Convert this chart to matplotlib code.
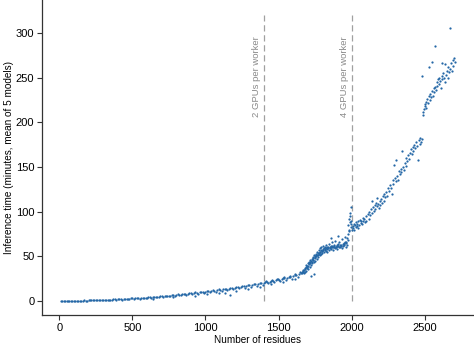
import numpy as np
import matplotlib
matplotlib.use("Agg")
import matplotlib.pyplot as plt

plt.rcParams['font.family'] = ['Liberation Sans', 'DejaVu Sans']

# smooth band, short sequences
band_x = [20, 40, 60, 80, 100, 120, 140, 160, 180, 200, 220, 240, 260, 280, 300,
          320, 340, 360, 380, 400, 420, 440, 460, 480, 500, 520, 540, 560, 580, 600,
          620, 640, 660, 680, 700, 720, 740, 760, 780, 800, 820, 840, 860, 880, 900,
          920, 940, 960, 980, 1000, 1020, 1040, 1060, 1080, 1100, 1120, 1140, 1160,
          1180, 1200, 1220, 1240, 1260, 1280, 1300, 1320, 1340, 1360, 1380, 1400,
          1420, 1440, 1460, 1480, 1500, 1520, 1540, 1560, 1580, 1600, 1620, 1640, 1660]
band_y = [0.1, 0.1, 0.2, 0.2, 0.3, 0.3, 0.4, 0.5, 0.5, 0.6, 0.7, 0.8, 0.9, 1.0, 1.1,
          1.2, 1.4, 1.5, 1.7, 1.9, 2.0, 2.2, 2.4, 2.6, 2.8, 3.0, 3.2, 3.4, 3.7, 3.9,
          4.2, 4.4, 4.7, 5.0, 5.2, 5.5, 5.8, 6.1, 6.4, 6.7, 7.0, 7.4, 7.7, 8.1, 8.4,
          8.8, 9.2, 9.6, 10.0, 10.4, 10.8, 11.2, 11.6, 12.1, 12.5, 13.0, 13.4, 13.9,
          14.4, 14.9, 15.4, 15.9, 16.4, 17.0, 17.5, 18.1, 18.7, 19.3, 19.9, 20.5,
          21.1, 21.7, 22.4, 23.0, 23.7, 24.4, 25.2, 26.0, 27.0, 28.0, 29.0, 30.2, 31.5]

# upper edge of the band
up_x = [10, 50, 90, 130, 170, 210, 250, 290, 330, 370, 410, 450, 490, 530, 570,
        610, 650, 690, 730, 770, 810, 850, 890, 930, 970, 1010, 1050, 1090, 1130,
        1170, 1210, 1250, 1290, 1330, 1370, 1410, 1450, 1490, 1530, 1570, 1610,
        1650, 1415, 1455, 1495, 1535, 1575, 1615, 1645]
up_y = [0.2, 0.3, 0.4, 0.5, 0.7, 0.9, 1.1, 1.3, 1.6, 1.9, 2.2, 2.6, 3.0, 3.4, 3.9,
        4.4, 5.0, 5.5, 6.1, 6.7, 7.4, 8.1, 8.8, 9.6, 10.4, 11.2, 12.0, 12.9, 13.8,
        14.8, 15.8, 16.8, 17.9, 19.0, 20.2, 21.5, 22.8, 24.2, 25.6, 27.2, 29.0,
        31.0, 22.0, 23.4, 24.8, 26.4, 28.0, 30.0, 32.5]

# lower edge of the band and a few slow runs
low_x = [30, 70, 110, 150, 190, 230, 270, 310, 350, 390, 430, 470, 510, 550, 590,
         630, 670, 710, 750, 790, 830, 870, 910, 950, 990, 1030, 1070, 1110, 1150,
         1190, 1230, 1270, 1310, 1350, 1390, 1430, 1470, 1510, 1550, 1590, 1630,
         640, 780, 930, 1010, 1090, 1130, 1170, 1210, 1290, 1370, 1450, 1530, 1610]
low_y = [0.0, 0.1, 0.2, 0.3, 0.4, 0.6, 0.7, 0.9, 1.1, 1.4, 1.6, 1.9, 2.3, 2.7, 3.1,
         3.6, 4.0, 4.6, 5.1, 5.7, 6.3, 6.9, 7.6, 8.3, 9.0, 9.8, 10.6, 11.4, 12.3,
         13.2, 14.1, 15.1, 16.2, 17.3, 18.4, 19.6, 20.8, 22.1, 23.5, 25.0, 26.8,
         2.5, 4.2, 6.0, 7.8, 8.5, 9.0, 6.5, 11.0, 13.5, 16.0, 18.5, 21.5, 24.5]

# the spread-out part, longer sequences
mid_x = [1665, 1670, 1672, 1678, 1680, 1685, 1688, 1690, 1694, 1698, 1700, 1703,
         1706, 1710, 1712, 1715, 1718, 1720, 1722, 1725, 1728, 1730, 1734, 1736,
         1740, 1742, 1745, 1748, 1750, 1753, 1756, 1760, 1762, 1766, 1770, 1773,
         1776, 1780, 1783, 1786, 1790, 1793, 1796, 1800, 1803, 1806, 1810, 1814,
         1818, 1822, 1826, 1830, 1834, 1838, 1842, 1846, 1850, 1855, 1860, 1864,
         1868, 1872, 1876, 1880, 1884, 1888, 1892, 1896, 1900, 1905, 1910, 1915,
         1920, 1925, 1930, 1935, 1940, 1945, 1950, 1955, 1958, 1962, 1966, 1970,
         1974, 1977, 1980, 1983, 1986, 1988, 1990, 1993, 1996, 1998, 1860, 1905]
mid_y = [33, 35, 31, 36, 33, 38, 34, 40, 37, 42, 36, 39,
         44, 41, 38, 46, 43, 40, 28, 47, 44, 42, 49, 46,
         30, 44, 51, 48, 45, 53, 50, 47, 55, 52, 49, 57,
         54, 51, 59, 55, 53, 61, 56, 54, 58, 62, 55, 57,
         60, 56, 63, 58, 55, 60, 64, 57, 59, 62, 58, 66,
         60, 57, 61, 63, 59, 67, 61, 58, 62, 64, 60, 66,
         61, 63, 59, 69, 62, 65, 64, 72, 60, 66, 70, 63,
         75, 85, 92, 80, 98, 88, 95, 105, 83, 90, 70, 73]

mid2_x = [1662, 1668, 1675, 1682, 1692, 1696, 1708, 1716, 1724, 1732, 1738, 1746,
          1752, 1758, 1764, 1768, 1775, 1782, 1788, 1795, 1802, 1808, 1816, 1824,
          1832, 1840, 1848, 1858, 1866, 1874, 1882, 1890, 1898, 1908, 1918, 1928,
          1938, 1948, 1956, 1964, 1972, 1984, 1994]
mid2_y = [32, 34, 35, 37, 39, 38, 42, 44, 45, 46, 48, 49,
          50, 52, 51, 54, 53, 55, 57, 56, 57, 59, 58, 59,
          60, 59, 61, 60, 62, 61, 62, 61, 63, 62, 63, 62,
          64, 63, 66, 65, 68, 78, 86]

high_x = [2002, 2006, 2010, 2014, 2018, 2022, 2026, 2030, 2034, 2038, 2042, 2046,
          2050, 2055, 2060, 2065, 2070, 2075, 2080, 2085, 2090, 2095, 2100, 2108,
          2115, 2120, 2126, 2130, 2136, 2140, 2145, 2150, 2156, 2160, 2166, 2170,
          2176, 2180, 2186, 2190, 2196, 2200, 2206, 2212, 2218, 2224, 2230, 2236,
          2242, 2248, 2255, 2262, 2268, 2275, 2280, 2285, 2290, 2296, 2300, 2305,
          2310, 2316, 2322, 2328, 2334, 2340, 2345, 2350, 2356, 2362, 2368, 2374,
          2380, 2386, 2392, 2398, 2404, 2410, 2416, 2422, 2428, 2434, 2440, 2446,
          2452, 2458, 2464, 2470, 2476, 2480]
high_y = [80, 84, 82, 86, 79, 85, 83, 88, 84, 86, 82, 89,
          85, 91, 87, 90, 86, 93, 89, 92, 88, 95, 90, 97,
          92, 100, 96, 103, 99, 112, 105, 101, 108, 103, 110, 106,
          115, 109, 104, 112, 107, 114, 110, 117, 112, 120, 116, 122,
          118, 126, 123, 130, 127, 120, 135, 131, 152, 138, 134, 158,
          140, 136, 145, 142, 148, 144, 168, 150, 147, 155, 151, 160,
          157, 163, 159, 166, 170, 165, 172, 168, 175, 171, 178, 174,
          158, 180, 176, 182, 178, 181]

top_x = [2482, 2486, 2490, 2494, 2498, 2502, 2506, 2510, 2515, 2520, 2525, 2530,
         2534, 2538, 2542, 2546, 2550, 2555, 2560, 2565, 2568, 2572, 2576, 2580,
         2585, 2590, 2595, 2600, 2605, 2610, 2615, 2620, 2625, 2630, 2635, 2640,
         2645, 2650, 2655, 2660, 2665, 2670, 2675, 2680, 2685, 2690, 2695, 2700,
         2705, 2620]
top_y = [252, 208, 212, 215, 220, 218, 223, 216, 226, 222, 229, 262,
         225, 232, 228, 235, 268, 230, 238, 234, 285, 240, 236, 245,
         241, 248, 243, 250, 246, 239, 252, 248, 255, 250, 245, 265,
         253, 258, 250, 262, 256, 306, 260, 266, 258, 270, 263, 272,
         268, 267]

residues = band_x + up_x + low_x + mid_x + mid2_x + high_x + top_x
minutes = band_y + up_y + low_y + mid_y + mid2_y + high_y + top_y

gpu_lines = [1400, 2000]
gpu_labels = ['2 GPUs per worker', '4 GPUs per worker']

fig = plt.figure(figsize=(4.74, 3.48), dpi=100)
ax = fig.add_axes([0.0886, 0.0948, 0.9114, 0.9052])

ax.scatter(residues, minutes, s=2.6, color='#2467a6', linewidths=0, zorder=3)

for xv, lab in zip(gpu_lines, gpu_labels):
    ax.plot([xv, xv], [0, 320], color='#a0a0a0', lw=0.9, ls=(0, (5, 3)), zorder=1)
    ax.text(xv - 18, 296, lab, rotation=90, ha='right', va='top',
            fontsize=6.8, color='#8a8a8a')

ax.set_xlim(-118, 2836)
ax.set_ylim(-15.7, 337)
ax.set_xticks([0, 500, 1000, 1500, 2000, 2500])
ax.set_yticks([0, 50, 100, 150, 200, 250, 300])
ax.tick_params(labelsize=8, length=3.5, width=0.8, color='#333333', pad=2)

for side in ['top', 'right']:
    ax.spines[side].set_visible(False)
for side in ['left', 'bottom']:
    ax.spines[side].set_color('#333333')
    ax.spines[side].set_linewidth(0.9)

ax.set_xlabel('Number of residues', fontsize=7.2, labelpad=2)
ax.set_ylabel('Inference time (minutes, mean of 5 models)', fontsize=7.2, labelpad=1)

fig.savefig('out.png', dpi=100)
